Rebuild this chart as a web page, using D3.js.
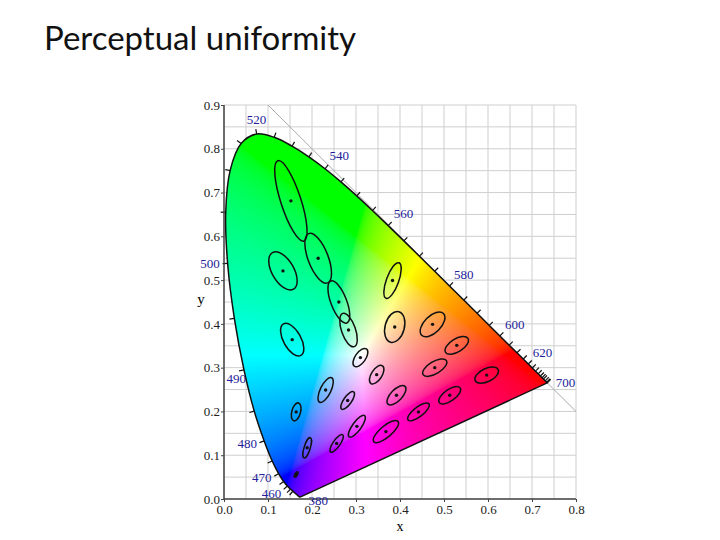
<!DOCTYPE html>
<html>
<head>
<meta charset="utf-8">
<script src="https://cdn.jsdelivr.net/npm/d3@7"></script>
<style>
  body { margin: 0; background: #fff; }
</style>
</head>
<body>
<script>
// spectral locus, CIE 1931 2 deg: [nm, x, y]
const locus = [
  [380, 0.1741, 0.0050], [400, 0.1733, 0.0048], [410, 0.1726, 0.0048], [420, 0.1714, 0.0051],
  [430, 0.1689, 0.0069], [440, 0.1644, 0.0109], [450, 0.1566, 0.0177], [455, 0.1510, 0.0227],
  [460, 0.1440, 0.0297], [465, 0.1355, 0.0399], [470, 0.1241, 0.0578], [475, 0.1096, 0.0868],
  [480, 0.0913, 0.1327], [485, 0.0687, 0.2007], [490, 0.0454, 0.2950], [495, 0.0235, 0.4127],
  [500, 0.0082, 0.5384], [505, 0.0039, 0.6548], [510, 0.0139, 0.7502], [515, 0.0389, 0.8120],
  [520, 0.0743, 0.8338], [525, 0.1142, 0.8262], [530, 0.1547, 0.8059], [535, 0.1929, 0.7816],
  [540, 0.2296, 0.7543], [545, 0.2658, 0.7243], [550, 0.3016, 0.6923], [555, 0.3373, 0.6589],
  [560, 0.3731, 0.6245], [565, 0.4087, 0.5896], [570, 0.4441, 0.5547], [575, 0.4788, 0.5202],
  [580, 0.5125, 0.4866], [585, 0.5448, 0.4544], [590, 0.5752, 0.4242], [595, 0.6029, 0.3965],
  [600, 0.6270, 0.3725], [605, 0.6482, 0.3514], [610, 0.6658, 0.3340], [615, 0.6801, 0.3197],
  [620, 0.6915, 0.3083], [625, 0.7006, 0.2993], [630, 0.7079, 0.2920], [635, 0.7140, 0.2859],
  [640, 0.7190, 0.2809], [645, 0.7230, 0.2770], [650, 0.7260, 0.2740], [660, 0.7300, 0.2700],
  [680, 0.7334, 0.2666], [700, 0.7347, 0.2653]
];

// wavelength labels: [text, x, y]
const waveLabels = [
  ["520", 0.074, 0.867], ["540", 0.262, 0.785], ["560", 0.408, 0.653], ["580", 0.545, 0.514],
  ["600", 0.661, 0.399], ["620", 0.724, 0.334], ["700", 0.776, 0.266], ["500", -0.032, 0.539],
  ["490", 0.028, 0.275], ["480", 0.053, 0.126], ["470", 0.086, 0.050], ["460", 0.108, 0.012],
  ["380", 0.214, -0.003]
];

// MacAdam ellipses: [cx, cy, semi-major, semi-minor, angle deg]
const ellipses = [
  [0.152, 0.681, 0.096, 0.023, 108], [0.214, 0.550, 0.060, 0.023, 111],
  [0.134, 0.521, 0.048, 0.025, 120], [0.261, 0.450, 0.051, 0.018, 111],
  [0.283, 0.386, 0.040, 0.016, 109], [0.155, 0.364, 0.041, 0.020, 119],
  [0.383, 0.499, 0.043, 0.014, 70],  [0.388, 0.393, 0.036, 0.022, 75],
  [0.474, 0.399, 0.035, 0.019, 45],  [0.529, 0.351, 0.030, 0.015, 32],
  [0.310, 0.323, 0.024, 0.012, 55],  [0.347, 0.284, 0.024, 0.012, 57],
  [0.479, 0.300, 0.031, 0.014, 31],  [0.597, 0.283, 0.029, 0.015, 26],
  [0.231, 0.249, 0.031, 0.012, 64],  [0.281, 0.225, 0.024, 0.009, 55],
  [0.392, 0.237, 0.028, 0.013, 46],  [0.164, 0.199, 0.021, 0.010, 75],
  [0.302, 0.166, 0.030, 0.010, 54],  [0.442, 0.199, 0.030, 0.011, 38],
  [0.513, 0.237, 0.029, 0.013, 35],  [0.189, 0.117, 0.024, 0.007, 73],
  [0.256, 0.127, 0.024, 0.008, 55],  [0.368, 0.154, 0.036, 0.013, 40],
  [0.164, 0.056, 0.007, 0.003, 60]
];

const xTicks = [0, 0.1, 0.2, 0.3, 0.4, 0.5, 0.6, 0.7, 0.8];
const yTicks = [0, 0.1, 0.2, 0.3, 0.4, 0.5, 0.6, 0.7, 0.8, 0.9];

const width = 720, height = 540;
const plotL = 224, plotR = 576, plotT = 105, plotB = 499;

const sx = d3.scaleLinear().domain([0, 0.8]).range([plotL, plotR]);
const sy = d3.scaleLinear().domain([0, 0.9]).range([plotB, plotT]);

const svg = d3.select("body").append("svg").attr("width", width).attr("height", height);

svg.append("text").attr("x", 44).attr("y", 50)
  .attr("font-family", "Lato, 'Open Sans', sans-serif").attr("font-size", 33)
  .attr("fill", "#111").text("Perceptual uniformity");

// grid every 0.05
const g = svg.append("g");
d3.range(0, 0.8001, 0.05).forEach(v => {
  g.append("line").attr("x1", sx(v)).attr("x2", sx(v)).attr("y1", sy(0)).attr("y2", sy(0.9))
    .attr("stroke", "#cfcfcf").attr("stroke-width", 1);
});
d3.range(0, 0.9001, 0.05).forEach(v => {
  g.append("line").attr("x1", sx(0)).attr("x2", sx(0.8)).attr("y1", sy(v)).attr("y2", sy(v))
    .attr("stroke", "#cfcfcf").attr("stroke-width", 1);
});
// x + y = 1 line
g.append("line").attr("x1", sx(0.1)).attr("y1", sy(0.9)).attr("x2", sx(0.8)).attr("y2", sy(0.2))
  .attr("stroke", "#aaa").attr("stroke-width", 1);

// colour fill of chromaticity diagram
const cw = Math.round(plotR - plotL), ch = Math.round(plotB - plotT);
const canvas = document.createElement("canvas");
canvas.width = cw; canvas.height = ch;
const ctx = canvas.getContext("2d");
const img = ctx.createImageData(cw, ch);
const gam = c => c <= 0.0031308 ? 12.92 * c : 1.055 * Math.pow(c, 1 / 2.4) - 0.055;
for (let j = 0; j < ch; j++) {
  for (let i = 0; i < cw; i++) {
    const x = sx.invert(plotL + i + 0.5), y = sy.invert(plotT + j + 0.5);
    const k = (j * cw + i) * 4;
    if (y <= 0.001) { img.data[k + 3] = 0; continue; }
    const X = x / y, Y = 1, Z = (1 - x - y) / y;
    let r = 3.2406 * X - 1.5372 * Y - 0.4986 * Z;
    let gg = -0.9689 * X + 1.8758 * Y + 0.0415 * Z;
    let b = 0.0557 * X - 0.2040 * Y + 1.0570 * Z;
    r = Math.max(r, 0); gg = Math.max(gg, 0); b = Math.max(b, 0);
    const m = Math.max(r, gg, b) || 1;
    img.data[k] = 255 * gam(r / m);
    img.data[k + 1] = 255 * gam(gg / m);
    img.data[k + 2] = 255 * gam(b / m);
    img.data[k + 3] = 255;
  }
}
ctx.putImageData(img, 0, 0);

const line = d3.line().x(d => sx(d[1])).y(d => sy(d[2])).curve(d3.curveCatmullRom);
const locusPath = line(locus) + "Z";

svg.append("clipPath").attr("id", "clip").append("path").attr("d", locusPath);
svg.append("image").attr("x", plotL).attr("y", plotT).attr("width", cw).attr("height", ch)
  .attr("href", canvas.toDataURL()).attr("clip-path", "url(#clip)");
svg.append("path").attr("d", locusPath).attr("fill", "none").attr("stroke", "#111").attr("stroke-width", 1.5);

// wavelength ticks on locus, pointing outward
const tickWl = locus.filter(d => d[0] >= 450 && d[0] <= 700);
tickWl.forEach(d => {
  const idx = locus.indexOf(d);
  const p = locus[Math.max(idx - 1, 0)], n = locus[Math.min(idx + 1, locus.length - 1)];
  const dx = sx(n[1]) - sx(p[1]), dy = sy(n[2]) - sy(p[2]);
  const len = Math.hypot(dx, dy) || 1;
  const nx = dy / len, ny = -dx / len;
  const x0 = sx(d[1]), y0 = sy(d[2]);
  svg.append("line").attr("x1", x0).attr("y1", y0).attr("x2", x0 + nx * 5).attr("y2", y0 + ny * 5)
    .attr("stroke", "#111").attr("stroke-width", 1.2);
});

// axes
svg.append("line").attr("x1", sx(0)).attr("x2", sx(0.8)).attr("y1", sy(0)).attr("y2", sy(0))
  .attr("stroke", "#444").attr("stroke-width", 1.5);
svg.append("line").attr("x1", sx(0)).attr("x2", sx(0)).attr("y1", sy(0)).attr("y2", sy(0.9))
  .attr("stroke", "#444").attr("stroke-width", 1.5);

const xAxis = d3.axisBottom(sx).tickValues(xTicks).tickFormat(d3.format(".1f")).tickSize(3);
const yAxis = d3.axisLeft(sy).tickValues(yTicks).tickFormat(d3.format(".1f")).tickSize(3);
const ax = svg.append("g").attr("transform", `translate(0,${sy(0)})`).call(xAxis);
const ay = svg.append("g").attr("transform", `translate(${sx(0)},0)`).call(yAxis);
[ax, ay].forEach(a => {
  a.select(".domain").remove();
  a.selectAll("text").attr("font-family", "'Liberation Serif', serif").attr("font-size", 13).attr("fill", "#222");
  a.selectAll("line").attr("stroke", "#444");
});
ay.selectAll("text").attr("x", -4);

svg.append("text").attr("x", 400).attr("y", 531).attr("text-anchor", "middle")
  .attr("font-family", "'Liberation Serif', serif").attr("font-size", 14).text("x");
svg.append("text").attr("x", 201).attr("y", 304).attr("text-anchor", "middle")
  .attr("font-family", "'Liberation Serif', serif").attr("font-size", 15).text("y");

// wavelength labels
svg.selectAll(".wl").data(waveLabels).enter().append("text")
  .attr("x", d => sx(d[1])).attr("y", d => sy(d[2])).attr("dy", "0.35em")
  .attr("text-anchor", "middle").attr("font-family", "'Liberation Serif', serif")
  .attr("font-size", 13).attr("fill", "#22229a").text(d => d[0]);

// ellipses
const eg = svg.append("g");
ellipses.forEach(([cx, cy, a, b, ang]) => {
  const rx = sx(cx + a) - sx(cx), ry = sy(cy) - sy(cy + b);
  eg.append("ellipse").attr("cx", sx(cx)).attr("cy", sy(cy)).attr("rx", rx).attr("ry", ry)
    .attr("transform", `rotate(${-ang},${sx(cx)},${sy(cy)})`)
    .attr("fill", "none").attr("stroke", "#111").attr("stroke-width", 1.5);
  eg.append("circle").attr("cx", sx(cx)).attr("cy", sy(cy)).attr("r", 1.7).attr("fill", "#111");
});
</script>
</body>
</html>
